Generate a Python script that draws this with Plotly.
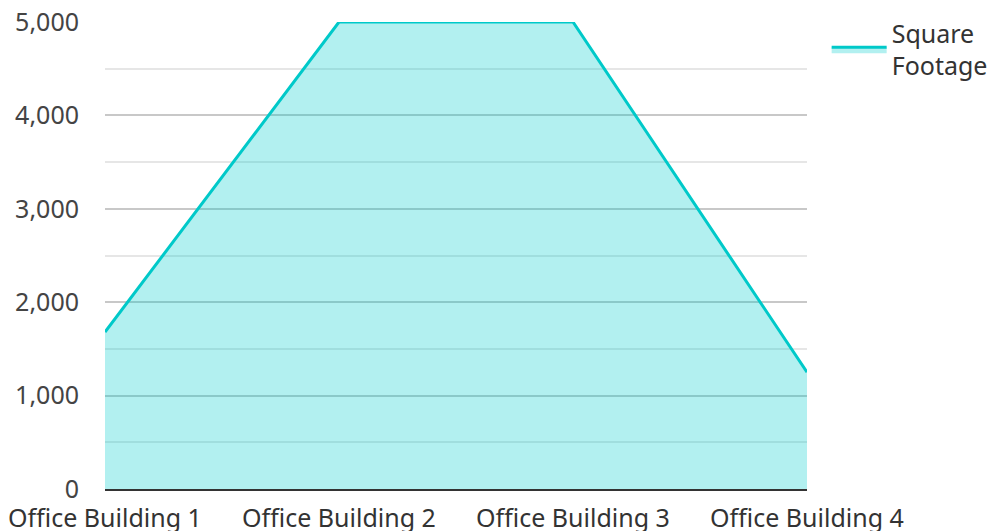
import plotly.graph_objects as go

categories = ["Office Building 1", "Office Building 2", "Office Building 3", "Office Building 4"]
square_footage = [1680, 5000, 5000, 1250]
series_name = "Square<br>Footage"
y_ticks = [0, 1000, 2000, 3000, 4000, 5000]
y_tick_labels = ["0", "1,000", "2,000", "3,000", "4,000", "5,000"]

fig = go.Figure()
fig.add_trace(go.Scatter(
    x=categories, y=square_footage, name=series_name,
    mode="lines", fill="tozeroy",
    line=dict(color="#00c9c9", width=3),
    fillcolor="rgba(0,204,204,0.3)",
))

fig.update_layout(
    width=989, height=531,
    margin=dict(l=105, r=182, t=22, b=42, autoexpand=False),
    paper_bgcolor="white", plot_bgcolor="white",
    font=dict(family="Noto Sans, Open Sans, sans-serif", size=25, color="#333"),
    showlegend=True,
    legend=dict(x=1.028, y=1.025, xanchor="left", yanchor="top",
                font=dict(size=25, color="#333"), itemwidth=55,
                tracegroupgap=0, bgcolor="rgba(0,0,0,0)"),
    xaxis=dict(type="category", range=[0, 3], showgrid=False, automargin=False,
               showline=True, linecolor="#333", linewidth=2,
               ticks="", ticklabelstandoff=6, ticklabeloverflow="allow",
               tickfont=dict(size=25, color="#333"), zeroline=False),
    yaxis=dict(range=[0, 5000], tickvals=y_ticks, ticktext=y_tick_labels,
               showgrid=True, gridcolor="#c8c8c8", gridwidth=1.5, automargin=False,
               zeroline=False, showline=False, ticks="",
               ticklabelstandoff=25, ticklabeloverflow="allow",
               tickfont=dict(size=25, color="#444"),
               minor=dict(dtick=500, showgrid=True, gridcolor="#e6e6e6", gridwidth=1.5)),
)

fig.write_html("out.html",
               config={"displayModeBar": False},
               post_script="document.body.style.margin='0';document.body.style.overflow='hidden';")
